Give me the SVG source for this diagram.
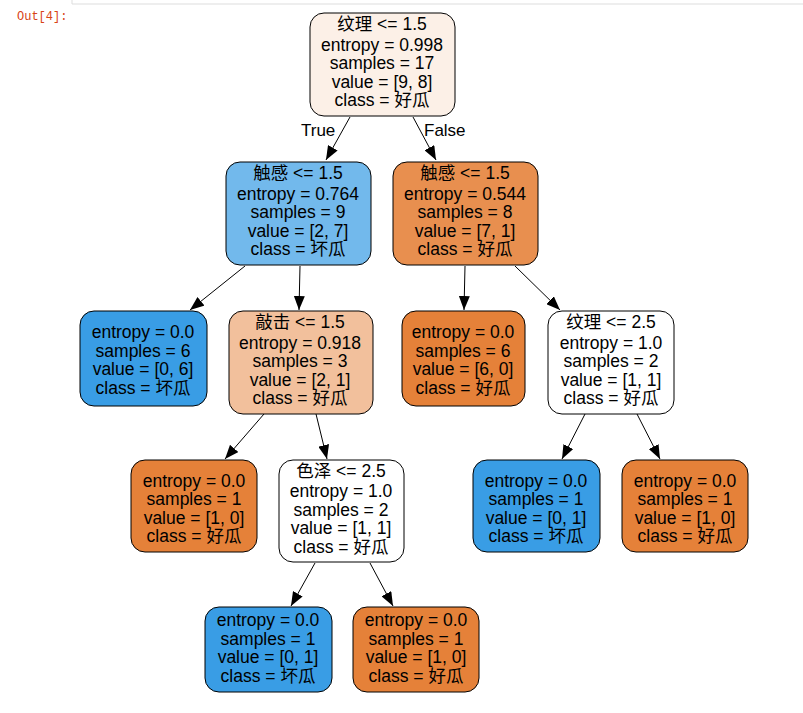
<svg xmlns="http://www.w3.org/2000/svg" width="803" height="713" viewBox="0 0 803 713">
<style>
.n rect{stroke:#000;stroke-width:1}
.n text{font-family:"Liberation Sans","Noto Sans CJK SC",sans-serif;font-size:17.5px;text-anchor:middle;fill:#000}
.e line{stroke:#000;stroke-width:1}
.lab{font-family:"Liberation Sans",sans-serif;font-size:17px;fill:#000}
</style>
<defs><marker id="a" viewBox="0 0 10 10" refX="10" refY="5" markerWidth="14" markerHeight="11" markerUnits="userSpaceOnUse" orient="auto" preserveAspectRatio="none"><path d="M0,0 L10,5 L0,10 z" fill="#000"/></marker></defs>
<rect x="0" y="0" width="803" height="713" fill="#fff"/>
<path d="M72,0 V4 H803" fill="none" stroke="#ddd"/>
<text x="17" y="20" font-family="Liberation Mono,monospace" font-size="12" fill="#d84315">Out[4]:</text>
<g class="e">
<line x1="350" y1="117" x2="326" y2="160" marker-end="url(#a)"/>
<line x1="413" y1="117" x2="436" y2="160" marker-end="url(#a)"/>
<line x1="245" y1="266" x2="190" y2="310" marker-end="url(#a)"/>
<line x1="300" y1="266" x2="299" y2="310" marker-end="url(#a)"/>
<line x1="465" y1="266" x2="464" y2="310" marker-end="url(#a)"/>
<line x1="515" y1="266" x2="560" y2="310" marker-end="url(#a)"/>
<line x1="264" y1="414" x2="225" y2="459" marker-end="url(#a)"/>
<line x1="316" y1="414" x2="327" y2="459" marker-end="url(#a)"/>
<line x1="585" y1="414" x2="562" y2="459" marker-end="url(#a)"/>
<line x1="637" y1="414" x2="660" y2="459" marker-end="url(#a)"/>
<line x1="315" y1="563" x2="291" y2="606" marker-end="url(#a)"/>
<line x1="370" y1="563" x2="393" y2="606" marker-end="url(#a)"/>
<text class="lab" x="301" y="136">True</text>
<text class="lab" x="424" y="136">False</text>
</g>
<g id="n0" class="n"><rect x="310" y="13" width="145" height="103" rx="14" fill="#fcf0e7"/>
<text x="382" y="30">纹理 &lt;= 1.5</text><text x="382" y="51">entropy = 0.998</text><text x="382" y="69">samples = 17</text><text x="382" y="88">value = [9, 8]</text><text x="382" y="106">class = 好瓜</text></g>
<g id="n1" class="n"><rect x="226" y="162" width="145" height="103" rx="14" fill="#72b9ec"/>
<text x="298" y="179">触感 &lt;= 1.5</text><text x="298" y="200">entropy = 0.764</text><text x="298" y="218">samples = 9</text><text x="298" y="237">value = [2, 7]</text><text x="298" y="255">class = 坏瓜</text></g>
<g id="n2" class="n"><rect x="393" y="162" width="145" height="103" rx="14" fill="#e88f4f"/>
<text x="465" y="179">触感 &lt;= 1.5</text><text x="465" y="200">entropy = 0.544</text><text x="465" y="218">samples = 8</text><text x="465" y="237">value = [7, 1]</text><text x="465" y="255">class = 好瓜</text></g>
<g id="n3" class="n"><rect x="80" y="311" width="127" height="95" rx="14" fill="#399de5"/>
<text x="143" y="338">entropy = 0.0</text><text x="143" y="357">samples = 6</text><text x="143" y="375">value = [0, 6]</text><text x="143" y="394">class = 坏瓜</text></g>
<g id="n4" class="n"><rect x="229" y="311" width="144" height="103" rx="14" fill="#f2c09c"/>
<text x="300" y="328">敲击 &lt;= 1.5</text><text x="300" y="349">entropy = 0.918</text><text x="300" y="367">samples = 3</text><text x="300" y="386">value = [2, 1]</text><text x="300" y="404">class = 好瓜</text></g>
<g id="n5" class="n"><rect x="402" y="311" width="123" height="95" rx="14" fill="#e58139"/>
<text x="463" y="338">entropy = 0.0</text><text x="463" y="357">samples = 6</text><text x="463" y="375">value = [6, 0]</text><text x="463" y="394">class = 好瓜</text></g>
<g id="n6" class="n"><rect x="548" y="311" width="126" height="103" rx="14" fill="#ffffff"/>
<text x="611" y="328">纹理 &lt;= 2.5</text><text x="611" y="349">entropy = 1.0</text><text x="611" y="367">samples = 2</text><text x="611" y="386">value = [1, 1]</text><text x="611" y="404">class = 好瓜</text></g>
<g id="n7" class="n"><rect x="131" y="460" width="126" height="92" rx="14" fill="#e58139"/>
<text x="194" y="487">entropy = 0.0</text><text x="194" y="505">samples = 1</text><text x="194" y="524">value = [1, 0]</text><text x="194" y="542">class = 好瓜</text></g>
<g id="n8" class="n"><rect x="279" y="460" width="125" height="102" rx="14" fill="#ffffff"/>
<text x="341" y="477">色泽 &lt;= 2.5</text><text x="341" y="497">entropy = 1.0</text><text x="341" y="516">samples = 2</text><text x="341" y="534">value = [1, 1]</text><text x="341" y="553">class = 好瓜</text></g>
<g id="n9" class="n"><rect x="473" y="460" width="127" height="92" rx="14" fill="#399de5"/>
<text x="536" y="487">entropy = 0.0</text><text x="536" y="505">samples = 1</text><text x="536" y="524">value = [0, 1]</text><text x="536" y="542">class = 坏瓜</text></g>
<g id="n10" class="n"><rect x="622" y="460" width="126" height="92" rx="14" fill="#e58139"/>
<text x="685" y="487">entropy = 0.0</text><text x="685" y="505">samples = 1</text><text x="685" y="524">value = [1, 0]</text><text x="685" y="542">class = 好瓜</text></g>
<g id="n11" class="n"><rect x="205" y="607" width="127" height="85" rx="14" fill="#399de5"/>
<text x="268" y="626">entropy = 0.0</text><text x="268" y="645">samples = 1</text><text x="268" y="663">value = [0, 1]</text><text x="268" y="682">class = 坏瓜</text></g>
<g id="n12" class="n"><rect x="353" y="607" width="126" height="85" rx="14" fill="#e58139"/>
<text x="416" y="626">entropy = 0.0</text><text x="416" y="645">samples = 1</text><text x="416" y="663">value = [1, 0]</text><text x="416" y="682">class = 好瓜</text></g>
</svg>
